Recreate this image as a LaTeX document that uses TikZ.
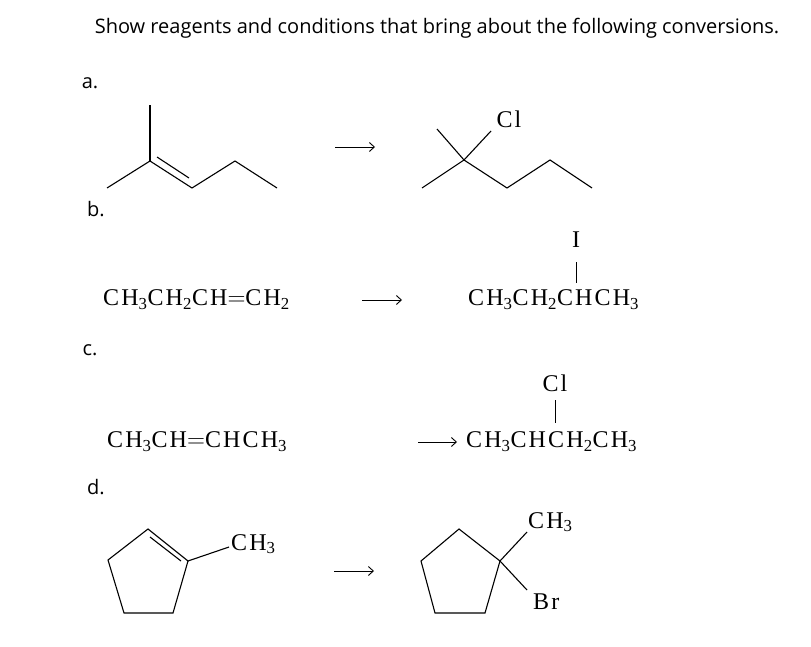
\documentclass[tikz,border=0pt]{standalone}
\usepackage{fontspec}
\usetikzlibrary{arrows.meta}
\setmainfont{Liberation Serif}
\newfontfamily\titlefont{Open Sans}
\newfontfamily\chemfont[LetterSpace=9]{Liberation Serif}
\newcommand{\sbs}[1]{\textsubscript{#1}}
\begin{document}
\begin{tikzpicture}[x=1pt,y=-1pt,
  bond/.style={line width=1.1pt},
  chem/.style={font=\chemfont\fontsize{24}{26}\selectfont, inner sep=0pt},
  lab/.style={font=\titlefont\fontsize{20}{22}\selectfont, inner sep=0pt},
  rxn/.style={-{Straight Barb[length=5pt,width=9pt]}, line width=0.9pt}]
\useasboundingbox (0,0) rectangle (811,647);
\node[lab] (title) at (437,28) {Show reagents and conditions that bring about the following conversions.};
\node[lab] (la) at (90,83) {a.};
\node[lab] (lb) at (96,209) {b.};
\node[lab] (lc) at (90,350) {c.};
\node[lab] (ld) at (96,487) {d.};
% a
\coordinate (a1) at (107,188); \coordinate (a2) at (150,161); \coordinate (a3) at (150,105);
\coordinate (a4) at (192,188); \coordinate (a5) at (235,161); \coordinate (a6) at (277,188);
\draw[bond] (a1)--(a2)--(a4)--(a5)--(a6); \draw[bond] (a2)--(a3);
\draw[bond] (157,157)--(189,178);
\coordinate (aL) at (335,147); \coordinate (aR) at (375,147);
\draw[rxn] (aL)--(aR);
\coordinate (b1) at (422,188); \coordinate (b2) at (464,160); \coordinate (b3) at (437,129);
\coordinate (b4) at (491,131); \coordinate (b5) at (507,188); \coordinate (b6) at (550,160); \coordinate (b7) at (592,188);
\draw[bond] (b1)--(b2)--(b5)--(b6)--(b7); \draw[bond] (b3)--(b2)--(b4);
\node[chem] (cl1) at (509,119) {Cl};
% b
\node[chem,anchor=west] (bl) at (103,300) {CH\sbs{3}CH\sbs{2}CH$=$CH\sbs{2}};
\coordinate (bA) at (362,300); \coordinate (bB) at (402,300);
\draw[rxn] (bA)--(bB);
\node[chem,anchor=west] (br) at (468,300) {CH\sbs{3}CH\sbs{2}CHCH\sbs{3}};
\node[chem] (iod) at (576,240) {I};
\draw[line width=0.9pt] (576,262)--(576,283);
% c
\node[chem,anchor=west] (cl) at (107,442) {CH\sbs{3}CH$=$CHCH\sbs{3}};
\coordinate (cA) at (418,442); \coordinate (cB) at (457,442);
\draw[rxn] (cA)--(cB);
\node[chem,anchor=west] (cr) at (466,442) {CH\sbs{3}CHCH\sbs{2}CH\sbs{3}};
\node[chem] (cl2) at (555,383) {Cl};
\draw[line width=0.9pt] (555,400)--(555,423);
% d
\coordinate (d1) at (148,529); \coordinate (d2) at (188,561); \coordinate (d3) at (173,613);
\coordinate (d4) at (124,613); \coordinate (d5) at (108,560); \coordinate (d6) at (229,547);
\draw[bond] (d1)--(d2)--(d3)--(d4)--(d5)--cycle; \draw[bond] (d2)--(d6);
\draw[bond] (150,537)--(181,561);
\node[chem,anchor=west] (dm) at (231,544) {CH\sbs{3}};
\coordinate (dA) at (334,571); \coordinate (dB) at (374,571);
\draw[rxn] (dA)--(dB);
\coordinate (e1) at (459,529); \coordinate (e2) at (500,561); \coordinate (e3) at (485,613);
\coordinate (e4) at (435,613); \coordinate (e5) at (421,561); \coordinate (e6) at (527,532); \coordinate (e7) at (527,590);
\draw[bond] (e1)--(e2)--(e3)--(e4)--(e5)--cycle; \draw[bond] (e6)--(e2)--(e7);
\node[chem,anchor=west] (em) at (528,522) {CH\sbs{3}};
\node[chem,anchor=west] (eb) at (533,602) {Br};
\end{tikzpicture}
\end{document}
